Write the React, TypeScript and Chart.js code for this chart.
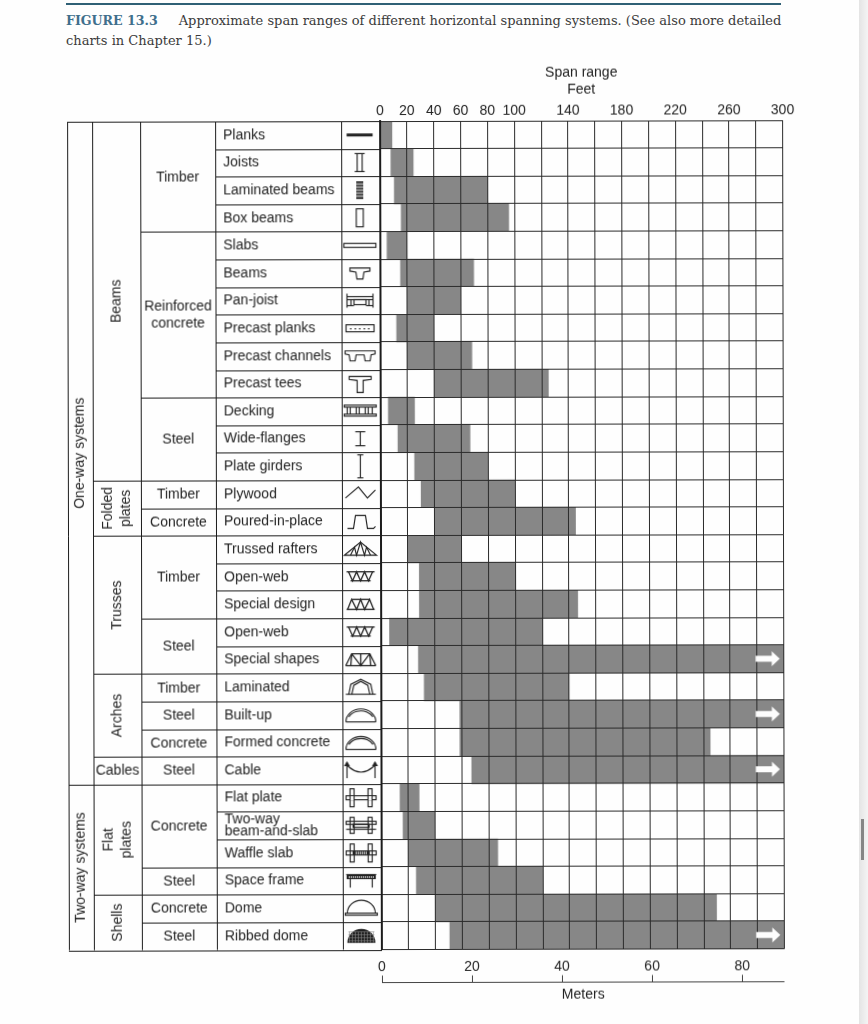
import React, { useEffect, useRef } from "react";
import Chart from "chart.js/auto";

const FONT = '"Liberation Sans", Arial, sans-serif';
const INK = "#232323";

// ---------- data ----------
const systems: (string | string[])[] = [
  "Planks", "Joists", "Laminated beams", "Box beams", "Slabs", "Beams", "Pan-joist",
  "Precast planks", "Precast channels", "Precast tees", "Decking", "Wide-flanges",
  "Plate girders", "Plywood", "Poured-in-place", "Trussed rafters", "Open-web",
  "Special design", "Open-web", "Special shapes", "Laminated", "Built-up",
  "Formed concrete", "Cable", "Flat plate", ["Two-way", "beam-and-slab"], "Waffle slab",
  "Space frame", "Dome", "Ribbed dome",
];
const spanFromFeet = [
  0, 8, 10.5, 15.6, 5, 15, 20, 12, 20, 40, 5.7, 12.8, 25.2, 30, 40, 20, 28.5, 28.5, 6.2,
  27.7, 32, 58.5, 58.5, 67.3, 13.8, 16, 20, 25.8, 40, 50.7,
];
const spanToFeet = [
  8.8, 24.6, 80, 95.7, 20, 69.5, 60, 40, 68, 125, 25.2, 66.5, 80, 100, 145, 60, 100, 146.5,
  120, 300, 140, 300, 245, 300, 28, 40, 86.5, 120, 249.5, 300,
];
const continuesPast = [19, 21, 23, 29];
const feetTickLabels = [0, 20, 40, 60, 80, 100, 140, 180, 220, 260, 300];
const meterMax = 89.4;

type Group = [string | string[], number, number];
const directionGroups: Group[] = [["One-way systems", 0, 24], ["Two-way systems", 24, 30]];
const familyGroups: Group[] = [
  ["Beams", 0, 13], [["Folded", "plates"], 13, 15], ["Trusses", 15, 20], ["Arches", 20, 23],
  ["Cables", 23, 24], [["Flat", "plates"], 24, 28], ["Shells", 28, 30],
];
const materialGroups: Group[] = [
  ["Timber", 0, 4], [["Reinforced", "concrete"], 4, 10], ["Steel", 10, 13], ["Timber", 13, 14],
  ["Concrete", 14, 15], ["Timber", 15, 18], ["Steel", 18, 20], ["Timber", 20, 21],
  ["Steel", 21, 22], ["Concrete", 22, 23], ["Steel", 23, 24], ["Concrete", 24, 27],
  ["Steel", 27, 28], ["Concrete", 28, 29], ["Steel", 29, 30],
];
const sectionIcons = [
  "plank", "joist", "lam", "box", "slab", "tbeam", "pan", "hollow", "channels", "tee", "deck",
  "wide", "girder", "zigzag", "poured", "rafter", "web", "design", "web", "shapes", "gable",
  "arch", "arch", "cable", "flat", "twoway", "waffle", "frame", "dome", "ribbed",
];

// ---------- layout of the table columns ----------
const COL = { a: 68, b: 93, c: 141, d: 216, e: 342 };
const ICON_X = 360.5;

type Ctx = CanvasRenderingContext2D;
function line(c: Ctx, pts: number[][], close = false) {
  c.beginPath();
  pts.forEach((p, i) => (i ? c.lineTo(p[0], p[1]) : c.moveTo(p[0], p[1])));
  if (close) c.closePath();
  c.stroke();
}
const iconDraw: Record<string, (c: Ctx) => void> = {
  plank: (c) => { c.lineWidth = 3; line(c, [[-13, 0], [13, 0]]); },
  joist: (c) => {
    line(c, [[-5, -9], [5, -9]]); line(c, [[-5, 9], [5, 9]]);
    line(c, [[-2.5, -9], [-2.5, 9]]); line(c, [[2.5, -9], [2.5, 9]]);
  },
  lam: (c) => {
    c.fillStyle = "#444"; c.fillRect(-3.5, -9, 7, 18); c.strokeStyle = "#ccc"; c.lineWidth = 1;
    for (let y = -6; y < 9; y += 3) line(c, [[-3.5, y], [3.5, y]]);
  },
  box: (c) => c.strokeRect(-3.5, -9, 7, 18),
  slab: (c) => c.strokeRect(-16, -2, 32, 4),
  tbeam: (c) => line(c, [[-10, -5], [10, -5], [10, -2], [4, -1], [3, 6], [-3, 6], [-4, -1], [-10, -2]], true),
  pan: (c) => {
    line(c, [[-13, -7], [-13, 7]]); line(c, [[13, -7], [13, 7]]);
    line(c, [[-13, -4], [13, -4]]); line(c, [[-13, -1], [13, -1]]);
    c.strokeRect(-6, -1, 12, 5);
    line(c, [[-13, 5], [-6, 5]]); line(c, [[6, 5], [13, 5]]);
    line(c, [[-9, -1], [-9, 5]]); line(c, [[9, -1], [9, 5]]);
  },
  hollow: (c) => {
    c.strokeRect(-14, -3.5, 28, 7);
    c.setLineDash([1.5, 3]); line(c, [[-10, 0.5], [11, 0.5]]); c.setLineDash([]);
  },
  channels: (c) => {
    line(c, [[-15, -5], [15, -5], [15, -2], [11, -1], [10, 5], [5, 5], [4, -1], [-4, -1], [-5, 5], [-10, 5], [-11, -1], [-15, -2]], true);
  },
  tee: (c) => line(c, [[-11, -7], [11, -7], [11, -4], [3, -3], [3, 9], [-3, 9], [-3, -3], [-11, -4]], true),
  deck: (c) => {
    c.strokeRect(-16, -6, 32, 2); c.strokeRect(-16, 3, 32, 2);
    [-13, -10, -4, -1, 5, 8, 12].forEach((x) => line(c, [[x, -4], [x, 3]]));
  },
  wide: (c) => { line(c, [[-5, -7], [5, -7]]); line(c, [[-5, 7], [5, 7]]); line(c, [[0, -7], [0, 7]]); },
  girder: (c) => { line(c, [[-3, -11.5], [3, -11.5]]); line(c, [[-3, 11.5], [3, 11.5]]); line(c, [[0, -11.5], [0, 11.5]]); },
  zigzag: (c) => line(c, [[-15, 4], [-2, -7], [7, 4], [15, -4]]),
  poured: (c) => line(c, [[-13, 7], [-7, 7], [-5, -6], [5, -6], [7, 7], [13, 7], [15, 5]]),
  rafter: (c) => {
    line(c, [[-16, 6], [0, -7], [16, 6]], true);
    line(c, [[-10, 6], [-6, -2], [-4, 6], [0, -7], [4, 6], [6, -2], [10, 6]]);
  },
  web: (c) => {
    c.lineWidth = 1.3;
    line(c, [[-14, -5], [14, -5]]); line(c, [[-10, 4], [10, 4]]);
    line(c, [[-12, -5], [-8, 4], [-4, -5], [0, 4], [4, -5], [8, 4], [12, -5]]);
  },
  design: (c) => {
    c.lineWidth = 1.3;
    line(c, [[-14, 5], [14, 5]]); line(c, [[-9, -5], [9, -5]]);
    line(c, [[-13, 5], [-9, -5], [-4, 5], [0, -5], [4, 5], [9, -5], [13, 5]]);
  },
  shapes: (c) => {
    c.lineWidth = 1.3;
    line(c, [[-15, 6], [15, 6]]); line(c, [[-15, 6], [-9, -6], [9, -6], [15, 6]]);
    line(c, [[-10, 6], [-9, -6]]); line(c, [[10, 6], [9, -6]]);
    line(c, [[-9, -6], [0, 6], [9, -6]]); line(c, [[0, -6], [0, 6]]);
  },
  gable: (c) => {
    line(c, [[-15, 7], [15, 7]]);
    line(c, [[-12, 7], [-10, -3], [0, -8], [10, -3], [12, 7]]);
    line(c, [[-9, 7], [-7, -2], [0, -6], [7, -2], [9, 7]]);
  },
  arch: (c) => {
    line(c, [[-15, 7], [15, 7]]);
    c.beginPath(); c.ellipse(0, 7, 15, 13, 0, Math.PI, 0); c.stroke();
    c.beginPath(); c.ellipse(0, 7, 13.5, 11, 0, Math.PI * 1.15, Math.PI * 1.85); c.stroke();
  },
  cable: (c) => {
    line(c, [[-14, 8], [-14, -8]]); line(c, [[14, 8], [14, -8]]);
    c.fillStyle = INK;
    [-14, 14].forEach((x) => {
      c.beginPath(); c.moveTo(x, -9); c.lineTo(x - 3, -4); c.lineTo(x + 3, -4); c.closePath(); c.fill();
    });
    c.beginPath(); c.moveTo(-14, -5); c.quadraticCurveTo(0, 9, 14, -5); c.stroke();
  },
  flat: (c) => {
    c.strokeRect(-15, -2, 30, 4);
    [-9, 9].forEach((x) => { c.clearRect(x - 2, -2, 4, 4); c.strokeRect(x - 2, -9, 4, 18); });
  },
  twoway: (c) => {
    c.strokeRect(-15, -4, 30, 3); c.strokeRect(-8, -1, 16, 3); line(c, [[-15, 4], [15, 4]]);
    [-9, 9].forEach((x) => c.strokeRect(x - 2, -8, 4, 16));
  },
  waffle: (c) => {
    c.strokeRect(-15, -2, 30, 4);
    for (let x = -8; x <= 8; x += 2) line(c, [[x, -2], [x, 2]]);
    [-9, 9].forEach((x) => c.strokeRect(x - 2, -9, 4, 18));
  },
  frame: (c) => {
    c.strokeRect(-14, -5, 28, 3);
    for (let x = -13; x <= 13; x += 2) line(c, [[x, -5], [x, -2]]);
    line(c, [[-11, -2], [-11, 7]]); line(c, [[11, -2], [11, 7]]);
    line(c, [[-15, -6], [15, -6]]);
  },
  dome: (c) => {
    c.beginPath(); c.ellipse(0, 5, 14, 13, 0, Math.PI, 0); c.stroke();
    c.strokeRect(-16, 5, 32, 2);
  },
  ribbed: (c) => {
    c.fillStyle = "#1f1f1f";
    c.beginPath(); c.ellipse(0, 7, 14, 14, 0, Math.PI, 0); c.closePath(); c.fill();
    c.strokeStyle = "#888"; c.lineWidth = 0.6;
    for (let x = -12; x <= 12; x += 3) line(c, [[x, -4], [x, 7]]);
    for (let y = -4; y <= 7; y += 3) line(c, [[-13, y], [13, y]]);
  },
};

const tablePlugin = {
  id: "spanTable",
  afterDraw(chart: any) {
    const c: Ctx = chart.ctx;
    const { x, y, x2 } = chart.scales;
    const area = chart.chartArea;
    const edge = (row: number) => y.getPixelForValue(row - 0.5);
    const R = area.left;

    c.save();
    // table rules
    c.strokeStyle = "#1c1c1c";
    c.lineWidth = 1;
    const hr = (x0: number, yy: number) => line(c, [[x0, Math.round(yy) + 0.5], [R, Math.round(yy) + 0.5]]);
    const vr = (xx: number) => line(c, [[xx + 0.5, area.top], [xx + 0.5, area.bottom]]);
    [COL.a, COL.b, COL.c, COL.d, COL.e].forEach((v) => vr(v));
    for (let i = 0; i <= systems.length; i++) hr(COL.d, edge(i));
    materialGroups.forEach((g) => { hr(COL.c, edge(g[1])); hr(COL.c, edge(g[2])); });
    familyGroups.forEach((g) => { hr(COL.b, edge(g[1])); hr(COL.b, edge(g[2])); });
    directionGroups.forEach((g) => { hr(COL.a, edge(g[1])); hr(COL.a, edge(g[2])); });

    // grouped text
    c.fillStyle = INK;
    c.font = `14px ${FONT}`;
    c.textBaseline = "middle";
    c.textAlign = "center";
    const mid = (g: Group) => (edge(g[1]) + edge(g[2])) / 2;
    materialGroups.forEach((g) => {
      const ls = Array.isArray(g[0]) ? g[0] : [g[0]];
      ls.forEach((t, i) => c.fillText(t, (COL.c + COL.d) / 2, mid(g) + 0.5 + (i - (ls.length - 1) / 2) * 17));
    });
    const rotated = (t: string, xx: number, yy: number) => {
      c.save(); c.translate(xx, yy); c.rotate(-Math.PI / 2); c.fillText(t, 0, 0); c.restore();
    };
    directionGroups.forEach((g) => rotated(g[0] as string, (COL.a + COL.b) / 2, mid(g)));
    familyGroups.forEach((g) => {
      const xm = (COL.b + COL.c) / 2;
      if (g[0] === "Cables") c.fillText(g[0] as string, xm, mid(g));
      else if (Array.isArray(g[0])) {
        rotated(g[0][0], xm - 9, mid(g)); rotated(g[0][1], xm + 9.5, mid(g));
      } else rotated(g[0] as string, xm, mid(g));
    });

    // section icons
    sectionIcons.forEach((kind, i) => {
      c.save();
      c.translate(ICON_X, y.getPixelForValue(i));
      c.strokeStyle = INK; c.lineWidth = 1.15; c.lineJoin = "miter";
      iconDraw[kind](c);
      c.restore();
    });

    // white arrows on open-ended spans
    c.fillStyle = "#fdfdfd";
    continuesPast.forEach((i) => {
      const a = x.getPixelForValue(279), b = x.getPixelForValue(297), cy = y.getPixelForValue(i);
      c.beginPath();
      c.moveTo(a, cy - 3); c.lineTo(b - 8, cy - 3); c.lineTo(b - 8, cy - 7.5); c.lineTo(b, cy);
      c.lineTo(b - 8, cy + 7.5); c.lineTo(b - 8, cy + 3); c.lineTo(a, cy + 3);
      c.closePath(); c.fill();
    });

    // detached metre rule under the chart
    c.strokeStyle = "#444";
    const ruleY = 982.5;
    line(c, [[x2.left, ruleY], [x2.right, ruleY]]);
    x2.ticks.forEach((t: any) => {
      const px = Math.round(x2.getPixelForValue(t.value)) + 0.5;
      line(c, [[px, ruleY - 7], [px, ruleY]]);
    });
    c.restore();
  },
};

export default function App() {
  const ref = useRef<HTMLCanvasElement>(null);
  useEffect(() => {
    const chart = new Chart(ref.current!, {
      type: "bar",
      data: {
        labels: systems as any,
        datasets: [{
          label: "Span range",
          data: spanFromFeet.map((s, i) => [s, spanToFeet[i]]) as any,
          backgroundColor: "#878787",
          borderWidth: 0,
          barPercentage: 1,
          categoryPercentage: 1,
          xAxisID: "x",
          yAxisID: "y",
        }],
      },
      plugins: [tablePlugin],
      options: {
        indexAxis: "y",
        animation: false,
        responsive: false,
        layout: { padding: { left: 224, right: 84.5, top: 0, bottom: 0 } },
        plugins: { legend: { display: false }, tooltip: { enabled: false }, title: { display: false } },
        scales: {
          x: {
            type: "linear", position: "top", min: 0, max: 300,
            grid: { color: "#2a2a2a", lineWidth: 1, z: 1, drawTicks: false },
            border: { color: "#2a2a2a", z: 2 },
            ticks: {
              stepSize: 20, autoSkip: false, maxRotation: 0, padding: 1, color: INK,
              font: { family: FONT, size: 14 },
              callback: (v: any) => (feetTickLabels.includes(Number(v)) ? String(v) : ""),
            },
            title: {
              display: true, text: ["Span range", "Feet"], color: INK,
              font: { family: FONT, size: 14, lineHeight: 1.2 }, padding: { top: 65, bottom: 0 },
            },
            afterFit: (s: any) => { s.height = 121; },
          },
          x2: {
            type: "linear", position: "bottom", min: 0, max: meterMax,
            grid: { display: false, drawTicks: false },
            border: { display: false },
            ticks: {
              stepSize: 20, includeBounds: false, maxRotation: 0, padding: 9, color: INK,
              font: { family: FONT, size: 14 },
            },
            title: {
              display: true, text: "Meters", color: INK,
              font: { family: FONT, size: 14, lineHeight: 1.2 }, padding: { top: 0, bottom: 20 },
            },
            afterFit: (s: any) => { s.height = 74.5; },
          },
          y: {
            type: "category", offset: true,
            grid: { color: "#2a2a2a", lineWidth: 1, z: 1, drawTicks: false, offset: true },
            border: { color: "#1c1c1c", width: 2, z: 2 },
            ticks: {
              autoSkip: false, crossAlign: "far", padding: 0, color: INK,
              font: { family: FONT, size: 14, lineHeight: 0.86 },
            },
            afterFit: (s: any) => { s.width = 157; },
          },
        },
      } as any,
    });
    return () => chart.destroy();
  }, []);

  const serif = '"DejaVu Serif", serif';
  return (
    <div style={{ position: "absolute", left: 0, top: 0, width: 868, height: 1024, overflow: "hidden", background: "#fefefe" }}>
      <div style={{ position: "absolute", left: 66, top: 3, width: 715, height: 2, background: "#2f6075" }} />
      <div style={{ position: "absolute", left: 66, top: 11, fontFamily: serif, fontSize: 13, lineHeight: "19px", color: "#3a3a3a", whiteSpace: "nowrap" }}>
        <b style={{ color: "#3f6f8c", fontSize: 12.6 }}>FIGURE 13.3</b>
        <span style={{ marginLeft: 21 }}>Approximate span ranges of different horizontal spanning systems. (See also more detailed</span>
      </div>
      <div style={{ position: "absolute", left: 66, top: 31, fontFamily: serif, fontSize: 13, lineHeight: "19px", color: "#3a3a3a", whiteSpace: "nowrap" }}>
        charts in Chapter 15.)
      </div>
      <canvas ref={ref} width={868} height={1024} style={{ position: "absolute", left: 0, top: 0, display: "block", transform: "rotate(-0.125deg)", transformOrigin: "425px 535px" }} />
      <div style={{ position: "absolute", left: 859, top: 0, width: 9, height: 1024, background: "linear-gradient(90deg,#e4e4e4,#f4f4f4)" }} />
      <div style={{ position: "absolute", left: 861, top: 819, width: 3, height: 41, background: "#868686" }} />
    </div>
  );
}
